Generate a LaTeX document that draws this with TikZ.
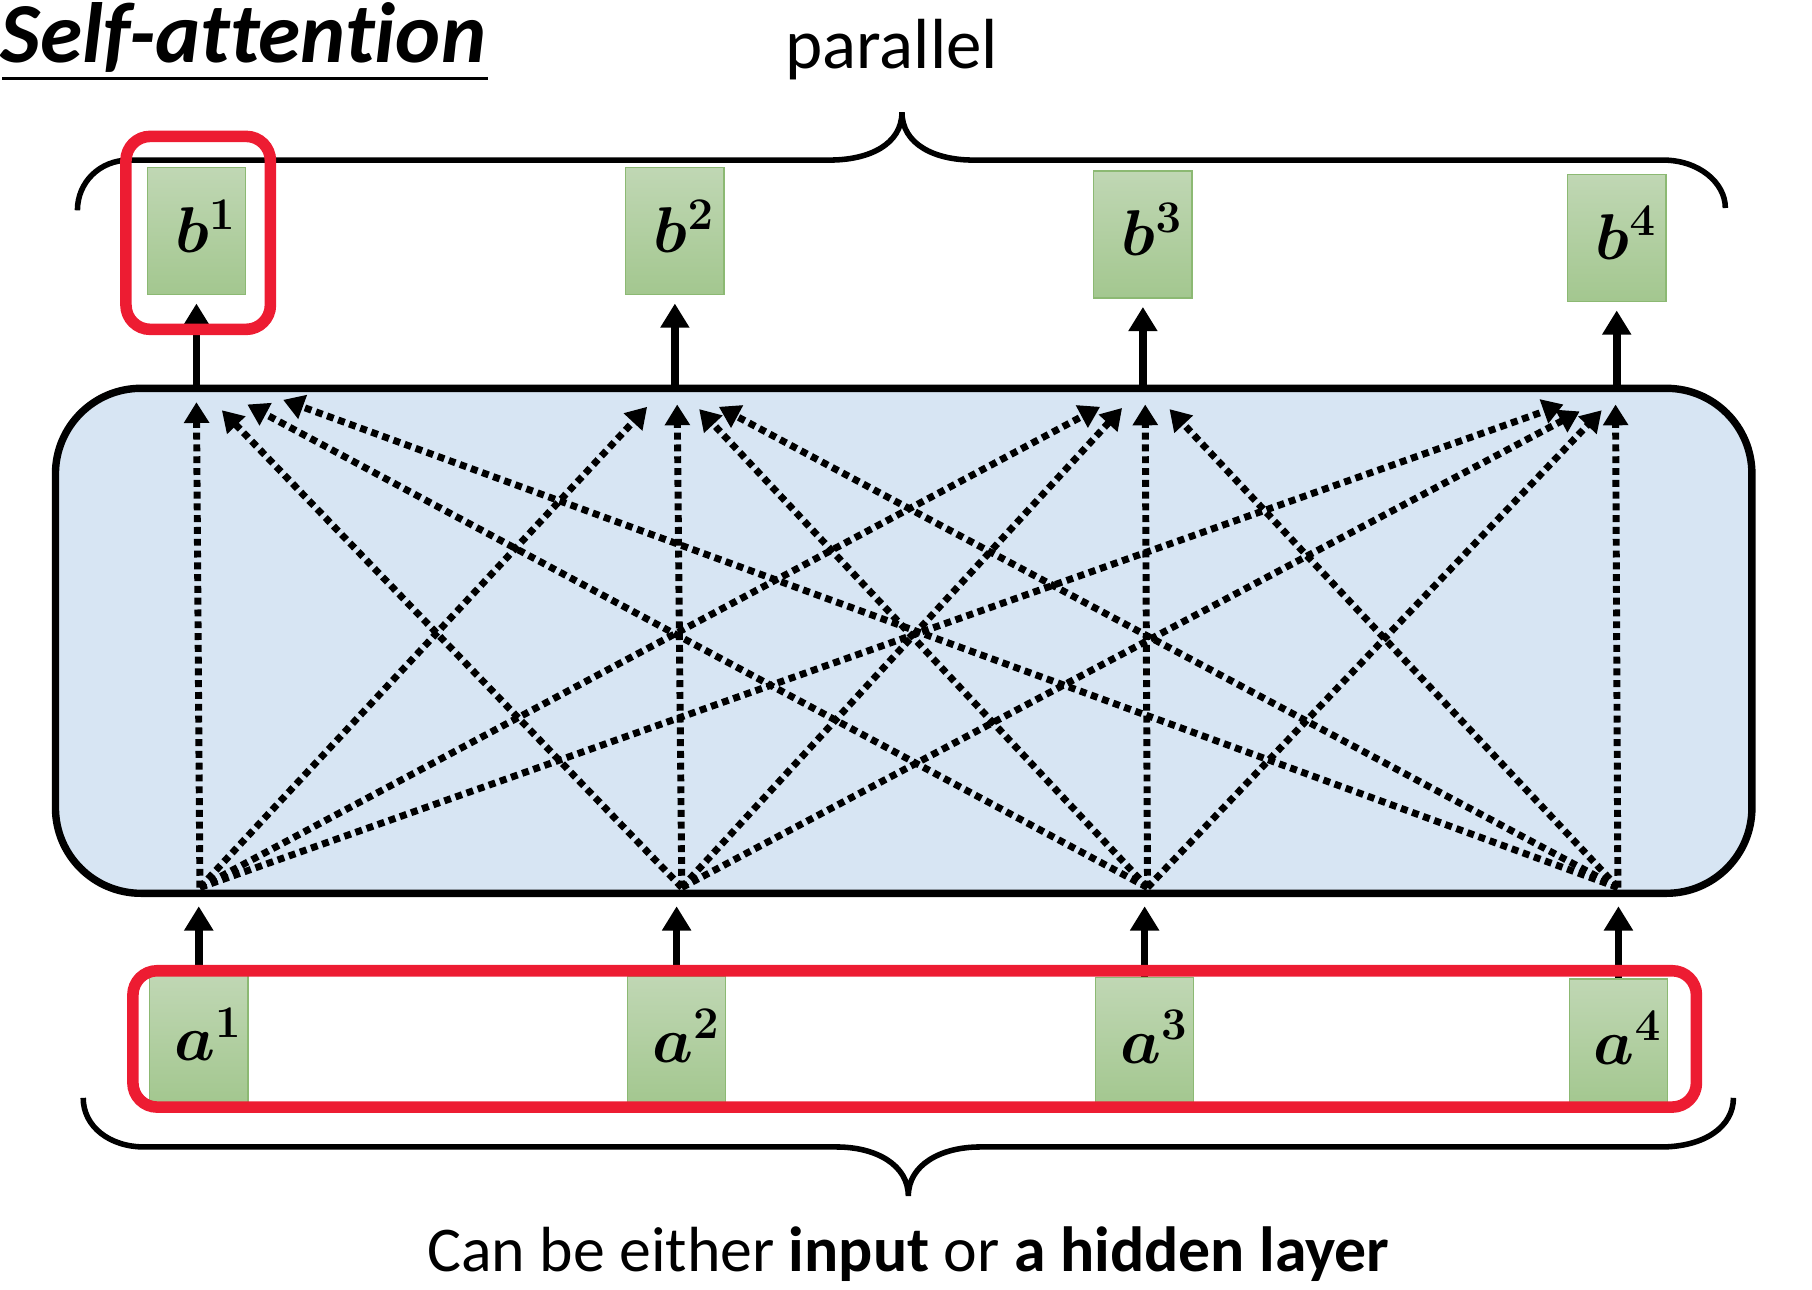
\RequirePackage{fix-cm}
\documentclass[tikz,border=0pt]{standalone}
\usepackage{bm}
\usepackage{fontspec}
\setmainfont{Carlito}[Ligatures=NoCommon]
\usetikzlibrary{arrows.meta}
\definecolor{redbox}{RGB}{237,28,50}
\definecolor{bluefill}{RGB}{215,229,243}
\definecolor{gtop}{RGB}{192,215,180}
\definecolor{gbot}{RGB}{163,199,143}
\definecolor{gline}{RGB}{140,185,115}
\begin{document}
\begin{tikzpicture}[x=0.5pt,y=-0.5pt,
  vec/.style={draw=gline, line width=0.6pt, top color=gtop, bottom color=gbot,
    minimum width=42.5pt, minimum height=55pt, inner sep=0pt},
  veclbl/.style={anchor=base, inner sep=0pt, font=\fontsize{28}{32}\selectfont},
  solidarr/.style={line width=3.3pt, -{Triangle[length=10.5pt,width=12pt]}},
  dotarr/.style={line width=3pt, dash pattern=on 3pt off 2.1pt,
    -{Triangle[length=9pt,width=10.5pt]}},
  bracepath/.style={line width=2.4pt},
  redframe/.style={draw=redbox, line width=5pt, rounded corners=10.5pt, inner sep=0pt},
]
\useasboundingbox (0,0) rectangle (1568,1116);

% title
\node[anchor=base west, inner sep=0pt] (title) at (0,54)
  {\fontsize{37}{40}\selectfont\bfseries\itshape Self-attention};
\draw[line width=1.2pt] (2,68) -- (422,68);

% parallel label and top brace
\node[anchor=base, inner sep=0pt] (par) at (771.5,59) {\fontsize{30.7}{36}\selectfont parallel};
\draw[bracepath] (67,182) .. controls (67,158) and (86,138.5) .. (112,138.5) -- (718,138.5)
  .. controls (752,138.5) and (780.5,125) .. (780.5,97)
  .. controls (780.5,125) and (809,138.5) .. (842,138.5) -- (1439,138.5)
  .. controls (1470,138.5) and (1493,158) .. (1493,180);

% self-attention block
\node[draw, line width=3.2pt, fill=bluefill, rounded corners=37pt,
  minimum width=734pt, minimum height=218.5pt, inner sep=0pt] (sa) at (782,554.5) {};

% output vectors
\node[vec] (b1) at (170,200) {};
\node[vec] (b2) at (584,200) {};
\node[vec] (b3) at (989,203) {};
\node[vec] (b4) at (1399,206) {};
\node[veclbl, xshift=4pt, yshift=-9.25pt] (b1l) at (b1.center) {$\bm{b}^{\bm{1}}$};
\node[veclbl, xshift=4pt, yshift=-9.25pt] (b2l) at (b2.center) {$\bm{b}^{\bm{2}}$};
\node[veclbl, xshift=4pt, yshift=-9.25pt] (b3l) at (b3.center) {$\bm{b}^{\bm{3}}$};
\node[veclbl, xshift=4pt, yshift=-9.25pt] (b4l) at (b4.center) {$\bm{b}^{\bm{4}}$};

% input vectors
\node[vec] (a1) at (172,899) {};
\node[vec] (a2) at (585.5,900) {};
\node[vec] (a3) at (990.5,901) {};
\node[vec] (a4) at (1400.5,902) {};
\node[veclbl, xshift=4pt, yshift=-9.5pt] (a1l) at (a1.center) {$\bm{a}^{\bm{1}}$};
\node[veclbl, xshift=4pt, yshift=-9.5pt] (a2l) at (a2.center) {$\bm{a}^{\bm{2}}$};
\node[veclbl, xshift=4pt, yshift=-9.5pt] (a3l) at (a3.center) {$\bm{a}^{\bm{3}}$};
\node[veclbl, xshift=4pt, yshift=-9.5pt] (a4l) at (a4.center) {$\bm{a}^{\bm{4}}$};

% solid arrows
\foreach \k in {1,...,4}{
  \draw[solidarr, shorten >=3.5pt] (b\k.south |- sa.north) -- (b\k.south);
  \draw[solidarr, shorten >=4pt] (a\k.north) -- (a\k.north |- sa.south);
}

% dotted attention arrows
\coordinate (s1) at (173,768);
\coordinate (s2) at (590,768);
\coordinate (s3) at (993,768);
\coordinate (s4) at (1400,768);
\coordinate (t11) at (170,348);  \coordinate (t21) at (192,355);
\coordinate (t31) at (214,350);  \coordinate (t41) at (245,346);
\coordinate (t12) at (560,352);  \coordinate (t22) at (586,350);
\coordinate (t32) at (605,354);  \coordinate (t42) at (622,352);
\coordinate (t13) at (952,352);  \coordinate (t23) at (971,353);
\coordinate (t33) at (991,350);  \coordinate (t43) at (1012,354);
\coordinate (t14) at (1353,350); \coordinate (t24) at (1367,356);
\coordinate (t34) at (1386,355); \coordinate (t44) at (1398,350);
\foreach \i in {1,...,4}{
  \foreach \j in {1,...,4}{
    \draw[dotarr] (s\i) -- (t\i\j);
  }
}

% red highlight frames
\node[redframe, minimum width=62.5pt, minimum height=83.5pt] (rb) at (171.5,201.5) {};
\node[redframe, minimum width=676.5pt, minimum height=59pt] (ra) at (791.5,899) {};

% bottom brace and caption
\draw[bracepath] (72,950) .. controls (72,975) and (95,992.5) .. (125,992.5) -- (724,992.5)
  .. controls (758,992.5) and (786,1008) .. (786,1035)
  .. controls (786,1008) and (814,992.5) .. (848,992.5) -- (1437,992.5)
  .. controls (1475,992.5) and (1500,975) .. (1500,950);
\node[anchor=base, inner sep=0pt] (cap) at (786,1100)
  {\fontsize{27.6}{32}\selectfont Can be either \textbf{input} or \textbf{a hidden layer}};
\end{tikzpicture}
\end{document}
